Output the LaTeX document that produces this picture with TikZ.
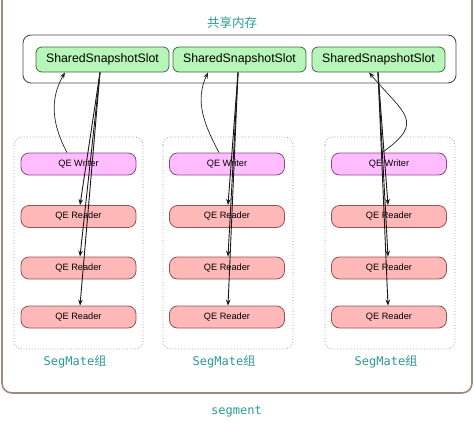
\documentclass[tikz,border=0pt]{standalone}
\usepackage{fontspec}
\setmainfont{Liberation Sans}
\newfontfamily\monof{DejaVu Sans Mono}
\newfontfamily\cjk{Noto Sans CJK SC}
\usetikzlibrary{arrows.meta}
\definecolor{teal2}{HTML}{2A9A96}
\definecolor{outerc}{HTML}{9C8B83}
\definecolor{slotfill}{HTML}{B8F5B8}
\definecolor{slotdraw}{HTML}{3E6A3E}
\definecolor{wfill}{HTML}{FFBDFF}
\definecolor{wdraw}{HTML}{8A4A8A}
\definecolor{rfill}{HTML}{FFB8B8}
\definecolor{rdraw}{HTML}{9A5050}
\tikzset{
  slotbox/.style={draw=slotdraw, fill=slotfill, rounded corners=6pt, line width=0.8pt,
    minimum width=133pt, minimum height=25pt, inner sep=0pt, font=\fontsize{12.3}{14}\selectfont},
  writerbox/.style={draw=wdraw, fill=wfill, rounded corners=8pt, line width=0.8pt,
    minimum width=115pt, minimum height=22pt, inner sep=0pt, font=\fontsize{9.2}{11}\selectfont},
  readerbox/.style={draw=rdraw, fill=rfill, rounded corners=8pt, line width=0.8pt,
    minimum width=115pt, minimum height=22pt, inner sep=0pt, font=\fontsize{9.2}{11}\selectfont},
  groupbox/.style={draw=black!40, dotted, line width=0.8pt, rounded corners=8pt},
  lbl/.style={text=teal2, font=\monof\fontsize{12}{14}\selectfont},
  flow/.style={draw=black!90, line width=0.9pt, -{Stealth[length=6pt,width=4.5pt]}},
  back/.style={draw=black!85, line width=0.7pt, -{Stealth[length=6pt,width=4.5pt]}}
}
\begin{document}
\begin{tikzpicture}[x=1pt,y=-1pt]
\useasboundingbox (0,0) rectangle (474,423);
\fill[white] (0,0) rectangle (474,423);
% outer segment box
\begin{scope}
\clip (0,0) rectangle (474,423);
\draw[outerc, line width=1.6pt, rounded corners=10pt] (2,-10) rectangle (472,393);
\end{scope}
% shared memory box
\draw[black!70, line width=0.9pt, rounded corners=8pt] (23,35) rectangle (456,83);
\node[text=teal2, font=\cjk\fontsize{12.5}{14}\selectfont] (shm) at (232,23) {共享内存};
% slots
\node[slotbox] (s1) at (102.5,59.5) {SharedSnapshotSlot};
\node[slotbox] (s2) at (239.5,59.5) {SharedSnapshotSlot};
\node[slotbox] (s3) at (378.5,59.5) {SharedSnapshotSlot};
% group boxes
\draw[groupbox] (14,137) rectangle (143,349);
\draw[groupbox] (163,137) rectangle (293,349);
\draw[groupbox] (325,137) rectangle (455,349);
% group 1
\node[writerbox] (w1) at (78.5,164) {QE Writer};
\node[readerbox] (r11) at (78.5,216.5) {QE Reader};
\node[readerbox] (r12) at (78.5,268) {QE Reader};
\node[readerbox] (r13) at (78.5,317) {QE Reader};
% group 2
\node[writerbox] (w2) at (227,164) {QE Writer};
\node[readerbox] (r21) at (227,216.5) {QE Reader};
\node[readerbox] (r22) at (227,268) {QE Reader};
\node[readerbox] (r23) at (227,317) {QE Reader};
% group 3
\node[writerbox] (w3) at (389,164) {QE Writer};
\node[readerbox] (r31) at (389,216.5) {QE Reader};
\node[readerbox] (r32) at (389,268) {QE Reader};
\node[readerbox] (r33) at (389,317) {QE Reader};
% labels
\node[lbl] (g1) at (75,362) {SegMate{\cjk 组}};
\node[lbl] (g2) at (224,362) {SegMate{\cjk 组}};
\node[lbl] (g3) at (386,362) {SegMate{\cjk 组}};
\node[lbl] (seg) at (236.5,412) {segment};
% writer -> slot curves
\draw[back] ([xshift=-11.5pt]w1.north) to[out=118,in=240] ([xshift=-37.5pt]s1.south);
\draw[back] ([xshift=-8pt]w2.north) to[out=118,in=245] ([xshift=-31.5pt]s2.south);
\draw[back] ([xshift=-7pt]w3.north) to[out=35,in=310,looseness=1.7] ([xshift=-9.5pt]s3.south);
% slot -> readers
\foreach \r in {r11,r12,r13}
  \draw[flow] ([xshift=-2.5pt]s1.south) -- ([xshift=1.5pt]\r.north);
\foreach \r in {r21,r22,r23}
  \draw[flow] ([xshift=-1.5pt]s2.south) -- ([xshift=1pt]\r.north);
\foreach \r in {r31,r32,r33}
  \draw[flow] ([xshift=-0.5pt]s3.south) -- ([xshift=-1pt]\r.north);
\end{tikzpicture}
\end{document}
